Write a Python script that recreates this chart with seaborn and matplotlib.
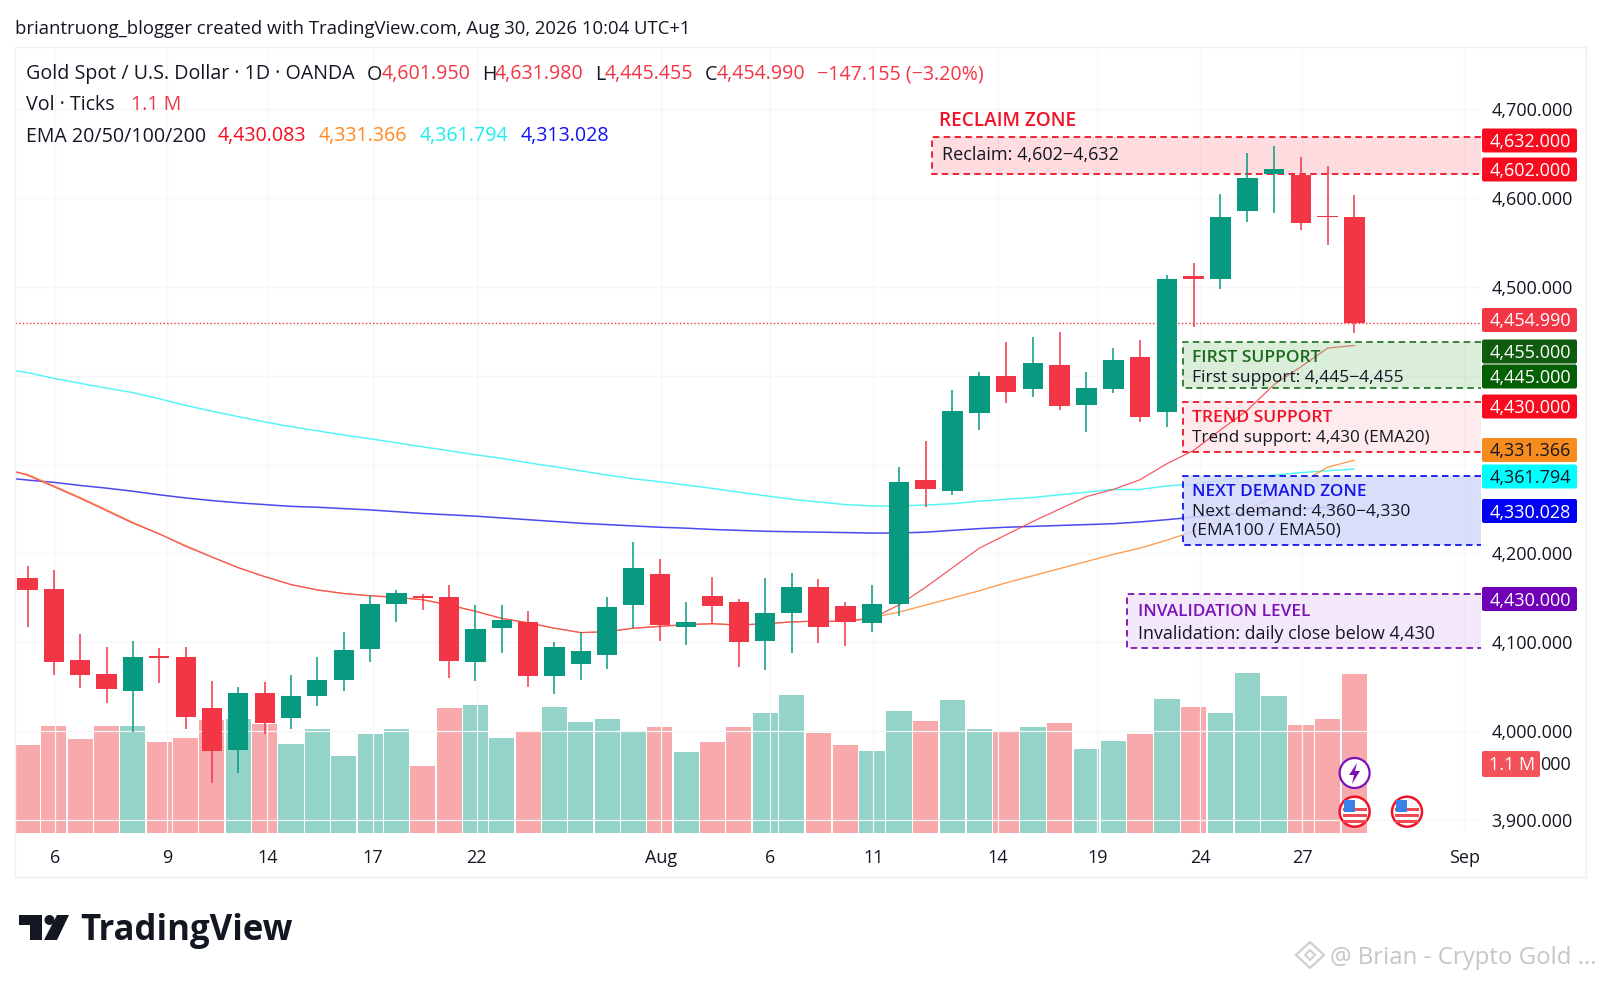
import numpy as np
import matplotlib
matplotlib.use("Agg")
import matplotlib.pyplot as plt
from matplotlib.patches import Rectangle, Circle, Polygon, FancyBboxPatch
from matplotlib.ticker import NullLocator
from matplotlib.transforms import blended_transform_factory
import seaborn as sns

# ---------- data ----------
OPEN = [4172.4,4159.6,4080.5,4064.8,4044.9,4084.6,4083.5,4025.8,3979.3,4043.4,4014.5,4039.3,4058.0,4092.9,4143.5,4152.1,4150.7,4077.5,4116.2,4123.3,4061.8,4075.3,4085.4,4142.0,4176.5,4117.7,4152.5,4145.4,4101.5,4133.4,4162.6,4141.3,4121.4,4142.8,4282.6,4270.0,4358.3,4399.6,4385.0,4412.0,4367.0,4384.6,4421.4,4359.5,4511.7,4509.0,4585.2,4626.8,4625.7,4579.6,4578.9]
HIGH = [4185.9,4181.0,4109.0,4094.4,4101.1,4093.3,4094.4,4056.5,4050.2,4055.0,4063.7,4083.2,4111.3,4153.3,4158.9,4154.4,4164.5,4142.4,4141.7,4134.9,4100.0,4111.7,4150.7,4212.9,4193.4,4145.0,4173.5,4148.8,4172.8,4177.7,4170.9,4145.8,4164.5,4297.6,4326.5,4383.8,4404.5,4437.5,4443.0,4449.5,4404.0,4431.5,4440.0,4512.9,4527.0,4604.0,4651.0,4658.7,4646.4,4635.9,4603.2]
LOW = [4117.7,4063.3,4049.0,4032.2,3999.5,4054.6,4002.2,3942.2,3952.6,3996.9,4002.2,4028.4,4045.7,4078.3,4123.3,4136.0,4059.5,4056.2,4087.7,4050.2,4041.5,4057.7,4070.4,4115.8,4101.2,4096.7,4120.6,4072.7,4069.3,4087.7,4098.9,4096.3,4112.0,4129.6,4252.6,4265.8,4338.9,4368.9,4376.4,4361.4,4336.6,4380.0,4348.2,4342.6,4455.0,4497.0,4573.0,4582.6,4563.9,4546.9,4447.6]
CLOSE = [4158.9,4077.5,4062.9,4047.1,4083.5,4082.8,4016.4,3978.2,4043.4,4008.9,4039.3,4058.0,4091.0,4142.8,4155.9,4149.5,4079.0,4115.0,4124.8,4061.8,4094.4,4089.9,4139.4,4184.0,4119.9,4122.5,4141.3,4100.8,4132.7,4162.6,4117.7,4123.3,4142.8,4280.7,4273.0,4360.6,4399.6,4382.0,4414.2,4365.9,4386.0,4417.2,4353.9,4509.0,4509.0,4578.9,4622.7,4632.0,4572.0,4578.5,4458.9]
VOLUME_K = [605,736,651,741,738,630,658,777,789,750,616,715,529,685,720,460,860,886,658,699,869,768,789,697,731,557,628,729,826,955,688,607,564,844,775,920,715,704,734,761,582,633,683,927,869,830,1106,948,743,787,1100]
# the EMA lists begin with the value at the left edge of the pane, before the first candle
EMA20 = [4292,4288,4275,4262,4248,4234,4222,4208,4196,4184,4174,4165,4159,4155,4152.5,4150.5,4148,4142,4135,4127,4122,4116,4111,4112,4116,4118,4120,4121,4119.5,4121,4123,4124,4123.5,4127,4142,4162,4184,4206,4221,4236,4250,4264,4272,4283,4301,4316,4339,4361,4390,4410,4431,4434]
EMA50 = [4292,4289,4276,4263,4249,4235,4222,4209,4196,4184,4174,4165,4159,4155,4152.5,4150.5,4148,4142,4135,4127,4122,4116,4111,4112,4116,4118,4120,4121,4119.5,4121,4123,4124,4123.5,4128,4134,4142,4150,4158,4167,4175,4183,4191,4199,4206,4215,4225,4237,4250,4263,4280,4297,4305]
EMA100 = [4405.6,4403.4,4397,4391.4,4386,4380.9,4374,4366.6,4360,4353.9,4348,4342.6,4338,4333.2,4329,4324.6,4320,4315.6,4311,4307,4302,4297.6,4293,4288.2,4284,4280.7,4277,4273.2,4269,4265,4261,4258,4255,4253.5,4253.5,4254.5,4256,4259,4261,4263,4266,4269,4272,4272,4276,4278,4282,4286,4288,4291,4293,4295]
EMA200 = [4284,4282.6,4280,4276.5,4273.5,4270,4266,4262.5,4259.5,4257,4255,4253,4252,4250.5,4249,4247,4245,4243.5,4242,4240,4238,4236,4234,4232.5,4231,4229.5,4228.5,4227,4226,4225,4224.5,4224,4223.5,4223,4223,4224,4226,4228,4229.5,4230.5,4231.5,4232.5,4233.5,4235.5,4238,4241,4243.5,4246,4248,4250,4252,4254]
Y_TICKS = [3900,4000,4100,4200,4300,4400,4500,4600,4700]
Y_LABELS = ["3,900.000","4,000.000","4,100.000","4,200.000","","","4,500.000","4,600.000","4,700.000"]
X_TICKS = [1.05,5.3,9.1,13.1,17.05,24.05,28.2,32.05,36.7,40.4,44.25,48.05,54.1]
X_LABELS = ["6","9","14","17","22","Aug","6","11","14","19","24","27","Sep"]

# zones: price top / bottom as drawn on the chart scale
ZONE_TOP = [4668.9,4438.2,4370.0,4287.5,4154.4]
ZONE_BOTTOM = [4626.9,4385.7,4313.7,4209.5,4093.3]

GREEN, RED = "#089981", "#F23645"
sns.set_theme(style="white")
plt.rcParams["font.family"] = ["Open Sans", "DejaVu Sans"]
plt.rcParams["axes.unicode_minus"] = False

W, H = 1603, 981
fig = plt.figure(figsize=(W/100, H/100), dpi=100, facecolor="white")
L_PX, R_PX, T_PX, B_PX = 15, 1481, 47, 833
ax = fig.add_axes([L_PX/W, 1-B_PX/H, (R_PX-L_PX)/W, (B_PX-T_PX)/H])
ax_vol = ax.twinx()

idx = np.arange(len(OPEN))
o, h, l, c = map(np.array, (OPEN, HIGH, LOW, CLOSE))
up = c >= o
direction = np.where(up, "up", "down")

# volume
sns.barplot(x=idx, y=VOLUME_K, hue=direction, palette={"up": GREEN, "down": "#F0393F"},
            native_scale=True, dodge=False, width=0.95, saturation=1, alpha=0.43,
            linewidth=0, legend=False, ax=ax_vol)
ax_vol.set_ylim(0, 5427)
ax_vol.set_yticks([])
ax_vol.set_ylabel("")

# emas
XLIM_LEFT = -0.478
ema_x = np.r_[XLIM_LEFT, idx]
for vals, col, lw in [(EMA200,"#4A4AF0",1.1),(EMA100,"#52F5F5",1.05),(EMA50,"#FF9A4D",0.95),(EMA20,"#F5535A",0.85)]:
    sns.lineplot(x=ema_x, y=vals, color=col, linewidth=lw, ax=ax, zorder=2, estimator=None)

# zones
trans = blended_transform_factory(ax.transAxes, ax.transData)
zone_left_px = [931.6,1182.7,1182.7,1182.7,1126.5]
fills = [("#F80B1E",.14),("#8CCB8C",.32),("#F80B1E",.08),("#D3D9FA",.85),("#DDBDF5",.33)]
edges = ["#F01328","#2A7A2A","#F01328","#1515E8","#7A12B8"]
for top, bot, lpx, (fc, a), ec in zip(ZONE_TOP, ZONE_BOTTOM, zone_left_px, fills, edges):
    xf = (lpx-L_PX)/(R_PX-L_PX)
    ax.add_patch(Rectangle((xf, bot), 1-xf, top-bot, transform=trans, fc=fc, alpha=a, ec="none", zorder=3))
    ax.plot([1, xf, xf, 1], [top, top, bot, bot], transform=trans, color=ec, lw=1.3,
            dashes=(3.6, 2.4), zorder=3.2)

# candles
colors = [GREEN if u else RED for u in up]
ax.vlines(idx, l, h, colors=colors, lw=1.1, zorder=4)
bh = np.maximum(np.abs(c-o), 1.5)
ax.bar(idx, bh, bottom=np.minimum(o, c), width=0.77, color=colors, linewidth=0, zorder=5)

# last price dotted
ax.axhline(CLOSE[-1], color=RED, lw=1.0, ls=(0, (1, 1.6)), zorder=1.5)

# axes layout
ax.set_zorder(ax_vol.get_zorder()+1)
ax.patch.set_visible(False)
ax.set_ylim(3885.6, 4769.7)
def fwd(x):
    x = np.asarray(x, float)
    return np.where(x <= 29, 27.6+26.34*x, 791.6+26.8*(x-29))
def inv(p):
    p = np.asarray(p, float)
    return np.where(p <= 791.6, (p-27.6)/26.34, 29+(p-791.6)/26.8)
ax.set_xscale("function", functions=(fwd, inv))
ax.set_xlim(XLIM_LEFT, 54.72)
ax.set_xticks(X_TICKS)
ax.set_xticklabels(X_LABELS)
ax.xaxis.set_minor_locator(NullLocator())
ax.yaxis.tick_right()
ax.set_yticks(Y_TICKS)
ax.set_yticklabels(Y_LABELS)
ax.set_xlabel(""); ax.set_ylabel("")
ax.tick_params(axis="y", length=0, pad=7.5, labelsize=13, labelcolor="#131722")
ax.tick_params(axis="x", length=0, pad=11.5, labelsize=13, labelcolor="#131722")
ax.grid(True, color="#F6F7F9", lw=0.9)
ax.set_axisbelow(True)
sns.despine(ax=ax, left=True, bottom=True, right=True, top=True)
sns.despine(ax=ax_vol, left=True, bottom=True, right=True, top=True)

# overlay (annotations in pixels)
ov = fig.add_axes([0, 0, 1, 1], zorder=20)
ov.set_xlim(0, W); ov.set_ylim(H, 0); ov.axis("off"); ov.patch.set_visible(False)
ov.add_patch(Rectangle((14.5, 47), 1571.5, 830, fc="none", ec="#EDEFF2", lw=1))

def txt(x, y, s, color="#131722", size=13, ha="left", **kw):
    return ov.text(x, y+1.5, s, color=color, fontsize=size, ha=ha, va="center", **kw)

txt(15, 27, "briantruong_blogger created with TradingView.com, Aug 30, 2026 10:04 UTC+1", size=13.35)
HY = [73, 104, 135]
HS = 14.1
txt(26.5, HY[0], "Gold Spot / U.S. Dollar · 1D · OANDA", size=HS)
for x, s, col in [(367,"O","#131722"),(381.6,"4,601.950",RED),(482,"H","#131722"),(495,"4,631.980",RED),
                  (595,"L","#131722"),(605,"4,445.455",RED),(705,"C","#131722"),(717,"4,454.990",RED),
                  (817,"−147.155 (−3.20%)",RED)]:
    txt(x, HY[0], s, col, size=HS)
txt(26.5, HY[1], "Vol · Ticks", size=HS)
txt(130.6, HY[1], "1.1 M", RED, size=HS)
txt(26.5, HY[2], "EMA 20/50/100/200", size=HS)
for x, s, col in [(218,"4,430.083","#F80B1E"),(319,"4,331.366","#FF8A1E"),(420,"4,361.794","#1EEBEB"),(521,"4,313.028","#1212F5")]:
    txt(x, HY[2], s, col, size=HS)

# zone texts
txt(939, 120, "RECLAIM ZONE", "#F01328", size=13.7, fontweight="semibold")
txt(942, 154, "Reclaim: 4,602−4,632", size=12.95)
txt(1192, 356.7, "FIRST SUPPORT", "#1B6B1B", size=12.6, fontweight="semibold")
txt(1192, 376, "First support: 4,445−4,455", size=12.5)
txt(1192, 417, "TREND SUPPORT", "#F01328", size=12.6, fontweight="semibold")
txt(1192, 437, "Trend support: 4,430 (EMA20)", size=12.3)
txt(1192, 491, "NEXT DEMAND ZONE", "#1515E8", size=12.4, fontweight="semibold")
txt(1192, 510, "Next demand: 4,360−4,330", size=12.5)
txt(1192, 529, "(EMA100 / EMA50)", size=12.5)
txt(1138, 610, "INVALIDATION LEVEL", "#7A12B8", size=12.4, fontweight="semibold")
txt(1138, 632.7, "Invalidation: daily close below 4,430", size=12.85)

# right-hand price labels
txt(1571, 764, "000", ha="right")
LABELS = [("4,632.000",140.5,"#F80B1E","white"),("4,602.000",169.5,"#F80B1E","white"),
          ("4,454.990",320,"#F23645","white"),("4,455.000",351.5,"#0F5C0F","white"),
          ("4,445.000",376.5,"#056005","white"),("4,430.000",406.5,"#F80B1E","white"),
          ("4,331.366",450,"#F68B1F","#131722"),("4,361.794",476.5,"#00FFFF","#131722"),
          ("4,330.028",511,"#0000F5","white"),("4,430.000",599,"#7000B8","white")]
for s, y, bg, fg in LABELS:
    ov.add_patch(FancyBboxPatch((1482, y-12), 95, 24, boxstyle="round,pad=0,rounding_size=2", fc=bg, ec="none"))
    txt(1571, y, s, fg, ha="right")
ov.add_patch(FancyBboxPatch((1482, 751), 58, 26, boxstyle="round,pad=0,rounding_size=2", fc="#F2525A", ec="none"))
txt(1535, 764, "1.1 M", "white", ha="right")

# event icons
def flag(cx, cy):
    ov.add_patch(Circle((cx, cy), 15, fc="white", ec="#F01328", lw=1.8, zorder=3))
    for dy in (-2, 4, 10):
        ov.add_patch(Rectangle((cx-12, cy+dy-1.5), 24, 3.2, fc="#F04A52", ec="none", zorder=3.1))
    ov.add_patch(Rectangle((cx-11, cy-12), 11, 12, fc="#3B82E8", ec="none", zorder=3.2))
flag(1354.6, 811.7); flag(1407, 811.7)
ov.add_patch(Circle((1354.6, 773), 15, fc="white", ec="#7A12B8", lw=1.6, zorder=3))
ov.add_patch(Polygon([(1357,763),(1349,775),(1354,775),(1352,784),(1360,771),(1355,771)], fc="#7A12B8", ec="none", zorder=3.1))

# logo
k = "#131722"
ov.add_patch(Polygon([(19,915),(42,915),(42,940),(30,940),(30,925),(19,925)], fc=k, ec="none"))
ov.add_patch(Circle((49.5,920), 5, fc=k, ec="none"))
ov.add_patch(Polygon([(57,915),(69,915),(57,940),(44,940)], fc=k, ec="none"))
txt(80, 929.5, "TradingView", k, size=25, fontweight="bold")

# watermark
ov.add_patch(Polygon([(1310,942),(1324,955),(1310,968),(1296,955)], fc="none", ec="#CFCFCF", lw=1.6))
ov.add_patch(Polygon([(1310,950),(1315,955),(1310,960),(1305,955)], fc="none", ec="#CFCFCF", lw=1.4))
txt(1330, 957, "@ Brian - Crypto Gold ...", "#C4C6C9", size=17.3)

fig.savefig("out.png", dpi=100)
